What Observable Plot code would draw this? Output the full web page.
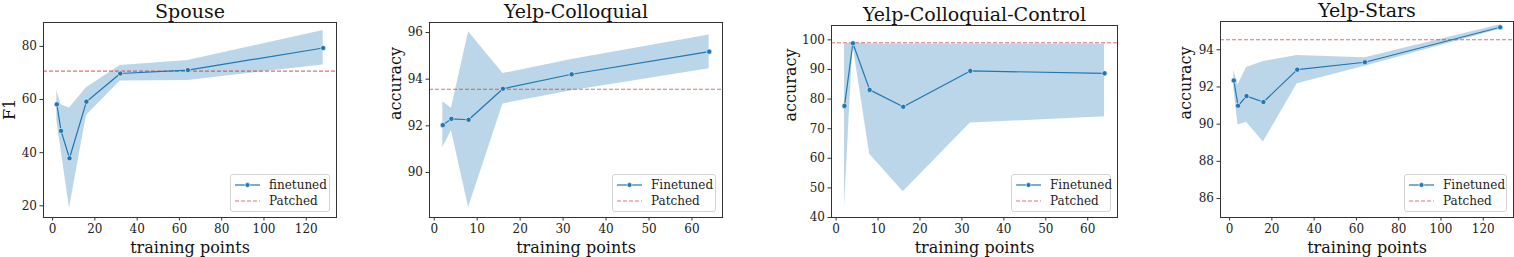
<!DOCTYPE html>
<html>
<head>
<meta charset="utf-8">
<script src="https://cdn.jsdelivr.net/npm/d3@7"></script>
<script src="https://cdn.jsdelivr.net/npm/@observablehq/plot@0.6"></script>
<style>
  html, body { margin: 0; padding: 0; background: #fff; }
  #wrap { position: relative; width: 1514px; height: 257px; overflow: hidden; background: #fff; font-family: "DejaVu Serif", serif; }
  .panel { position: absolute; top: 0; }
  .panel text { font-family: "DejaVu Serif", serif; }
  .legend { position: absolute; background: rgba(255,255,255,0.85); border: 1px solid #d4d4d4; border-radius: 3px;
            font-family: "DejaVu Serif", serif; font-size: 12px; color: #222; padding: 2px 7px 2px 3px; box-sizing: border-box; }
  .legend .row { display: flex; align-items: center; height: 16.5px; white-space: nowrap; }
  .legend svg { margin-right: 8px; flex: none; }
</style>
</head>
<body>
<div id="wrap"></div>
<script>
// ---------- data ----------
const spouseX = [2, 4, 8, 16, 32, 64, 128];
const spouseMean = [58.2, 48.2, 37.9, 59.2, 69.8, 71.1, 79.4];
const spouseLow = [52, 41, 19, 54, 67, 67.2, 73];
const spouseHigh = [63.4, 58, 56.8, 64.4, 72.8, 74.7, 86];
const spousePatched = 70.7;

const ycX = [2, 4, 8, 16, 32, 64];
const ycMean = [92.03, 92.3, 92.26, 93.59, 94.21, 95.18];
const ycLow = [91.07, 91.8, 88.5, 92.94, 93.5, 94.45];
const ycHigh = [93.03, 92.75, 96.03, 94.24, 94.84, 95.89];
const ycPatched = 93.57;

const yccX = [2, 4, 8, 16, 32, 64];
const yccMean = [77.7, 98.85, 83.1, 77.4, 89.5, 88.7];
const yccLow = [43.4, 98.4, 61.4, 48.7, 71.9, 74.0];
const yccHigh = [98.6, 99.0, 98.6, 98.6, 98.6, 98.6];
const yccPatched = 99.0;

const ysX = [2, 4, 8, 16, 32, 64, 128];
const ysMean = [92.35, 90.99, 91.51, 91.19, 92.93, 93.33, 95.21];
const ysLow = [91.9, 89.95, 90.1, 89.04, 92.17, 93.12, 95.1];
const ysHigh = [92.9, 92.1, 93.05, 93.37, 93.69, 93.57, 95.34];
const ysPatched = 94.54;

const titles = ["Spouse", "Yelp-Colloquial", "Yelp-Colloquial-Control", "Yelp-Stars"];
const yLabels = ["F1", "accuracy", "accuracy", "accuracy"];
const xLabel = "training points";
const seriesNames = [["finetuned", "Patched"], ["Finetuned", "Patched"], ["Finetuned", "Patched"], ["Finetuned", "Patched"]];
const xTicks = [[0, 20, 40, 60, 80, 100, 120], [0, 10, 20, 30, 40, 50, 60], [0, 10, 20, 30, 40, 50, 60], [0, 20, 40, 60, 80, 100, 120]];
const yTicks = [[20, 40, 60, 80], [90, 92, 94, 96], [40, 50, 60, 70, 80, 90, 100], [86, 88, 90, 92, 94]];
const xDomains = [[-4.3, 134.3], [-1.1, 67.1], [-1.1, 67.1], [-4.3, 134.3]];
const yDomains = [[15.6, 89.0], [88.07, 96.43], [40, 104.85], [84.98, 95.52]];

// ---------- layout (pixels) ----------
const layout = [
  {L: 43, R: 336, T: 22, B: 217, ylab: -34, legW: 100},
  {L: 429, R: 722, T: 22, B: 217, ylab: -34, legW: 104},
  {L: 831, R: 1117, T: 25, B: 217, ylab: -40.5, legW: 100},
  {L: 1220, R: 1513, T: 21, B: 217, ylab: -34.5, legW: 103}
];

const series = [
  [spouseX, spouseMean, spouseLow, spouseHigh, spousePatched],
  [ycX, ycMean, ycLow, ycHigh, ycPatched],
  [yccX, yccMean, yccLow, yccHigh, yccPatched],
  [ysX, ysMean, ysLow, ysHigh, ysPatched]
];

const BLUE = "#1f77b4";
const RED = "#d62728";
const INK = "#222";
const wrap = document.getElementById("wrap");

series.forEach(([xs, mean, low, high, patched], i) => {
  const lay = layout[i];
  const ML = 46, MR = 2;
  const data = xs.map((x, j) => ({x, mean: mean[j], low: low[j], high: high[j]}));
  const chart = Plot.plot({
    width: lay.R - lay.L + ML + MR,
    height: 257,
    marginLeft: ML,
    marginRight: MR,
    marginTop: lay.T,
    marginBottom: 257 - lay.B,
    style: {fontFamily: "DejaVu Serif", background: "transparent", overflow: "visible", color: INK},
    x: {domain: xDomains[i]},
    y: {domain: yDomains[i]},
    marks: [
      Plot.areaY(data, {x: "x", y1: "low", y2: "high", fill: BLUE, fillOpacity: 0.3}),
      Plot.ruleY([patched], {stroke: RED, strokeOpacity: 0.65, strokeDasharray: "4,2", strokeWidth: 1.1}),
      Plot.lineY(data, {x: "x", y: "mean", stroke: BLUE, strokeWidth: 1.2}),
      Plot.dot(data, {x: "x", y: "mean", r: 2.6, fill: BLUE, stroke: "white", strokeWidth: 0.6}),
      Plot.frame({stroke: "#333", strokeWidth: 1}),
      Plot.axisX({ticks: xTicks[i], tickSize: 3.5, tickPadding: 3, fontSize: 12, label: null, stroke: "#333"}),
      Plot.axisY({ticks: yTicks[i], tickSize: 3.5, tickPadding: 3, fontSize: 12, label: null, stroke: "#333"}),
      Plot.text([titles[i]], {text: d => d, frameAnchor: "top", lineAnchor: "bottom", dy: -4.5, fontSize: 19, fill: "#111"}),
      Plot.text([xLabel], {text: d => d, frameAnchor: "bottom", lineAnchor: "bottom", dy: 35, fontSize: 16, fill: "#111"}),
      Plot.text([yLabels[i]], {text: d => d, frameAnchor: "left", rotate: -90, dx: lay.ylab, fontSize: 16, fill: "#111"})
    ]
  });
  chart.classList.add("panel");
  chart.style.left = (lay.L - ML) + "px";
  wrap.appendChild(chart);

  // legend
  const leg = document.createElement("div");
  leg.className = "legend";
  leg.style.width = lay.legW + "px";
  leg.style.left = (lay.R - 6 - lay.legW) + "px";
  leg.style.top = (lay.B - 5.5 - 38) + "px";
  leg.style.height = "38px";
  const [n1, n2] = seriesNames[i];
  leg.innerHTML =
    `<div class="row"><svg width="27" height="8"><line x1="1" x2="26" y1="4" y2="4" stroke="${BLUE}" stroke-width="1.2"/><circle cx="13.5" cy="4" r="2.4" fill="${BLUE}" stroke="white" stroke-width="0.6"/></svg><span>${n1}</span></div>` +
    `<div class="row"><svg width="27" height="8"><line x1="1" x2="26" y1="4" y2="4" stroke="${RED}" stroke-opacity="0.65" stroke-dasharray="4,2" stroke-width="1.1"/></svg><span>${n2}</span></div>`;
  wrap.appendChild(leg);
});
</script>
</body>
</html>
